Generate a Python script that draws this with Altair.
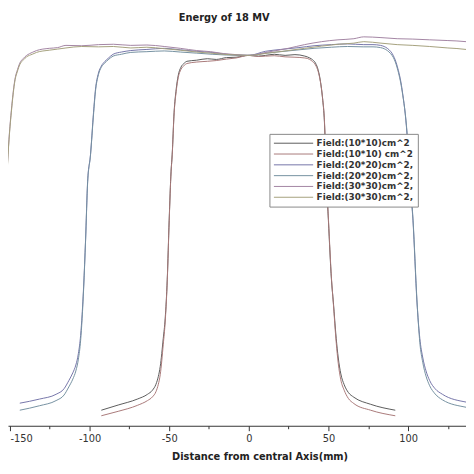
import json
import altair as alt
import pandas as pd

# ---- data (x in mm, relative dose in %) ----
x10 = [-92.6, -82, -70, -63.6, -60.5, -58.3, -56.8, -55.6, -53.7, -52.5, -51.2, -50, -48.8, -48.1,
       -46.9, -45.6, -44.3, -42.6, -40.5, -38.9, -32.7, -26, -20.4, -14, -8, 0, 6, 10.5, 16, 22.8,
       29, 35.2, 38.3, 40.1, 41.9, 43.6, 45.0, 46.3, 47.5, 48.8, 50, 51.9, 53.1, 54.9, 56.2, 57.8,
       59.9, 62.5, 66, 76.5, 92]
y10a = [4.2, 5.6, 7.2, 8.5, 9.6, 11.2, 13.3, 16.0, 23.6, 28.9, 39.5, 55.4, 68.7, 73.2,
        84.6, 90.8, 94.6, 96.8, 97.9, 98.4, 98.7, 99.1, 98.9, 99.4, 99.5, 100, 99.8, 100, 100.3, 100,
        100.2, 99.8, 99.3, 98.8, 97.9, 96.0, 93.0, 88.5, 82, 66, 55.4, 39.5, 33.4, 23.6, 18.3, 14.0,
        11.1, 9.0, 7.7, 5.8, 4.2]
y10b = [2.7, 3.9, 5.5, 6.8, 7.8, 9.2, 11.2, 13.8, 22.0, 28.0, 39.0, 55.0, 68.5, 73.0,
        84.2, 90.2, 94.0, 96.2, 97.3, 97.8, 98.2, 98.4, 98.6, 99.0, 99.3, 100, 99.7, 99.8, 99.9, 99.6,
        99.5, 99.3, 98.9, 98.3, 97.4, 95.6, 92.8, 88.6, 82.5, 66.5, 56.0, 40.0, 33.0, 22.5, 16.8, 12.4,
        9.6, 7.4, 6.0, 4.2, 2.7]

x20 = [-143.8, -131.5, -121, -116, -113, -110.5, -108.6, -107, -105.6, -103.7, -102.5, -101.2, -99.4,
       -97.5, -96.3, -94.4, -92.6, -90.3, -88.3, -85.2, -80, -74.1, -64, -53.1, -43, -32.7, -23, -14.2,
       0, 10.5, 20, 31.5, 41, 51.9, 62, 72.2, 78, 82.7, 85, 87, 89, 90.7, 93.2, 96.3, 99.4, 101.2,
       103.1, 105.6, 107.4, 109.3, 111.3, 113.6, 117, 121.6, 136.4, 145]
y20a = [6.1, 7.2, 8.5, 10.0, 12.2, 14.3, 16.4, 19.5, 24.4, 37.7, 50.1, 66, 73.2,
        84.6, 90.7, 95.2, 97.1, 98.4, 99.2, 100.3, 100.9, 101.3, 101.6, 101.9, 101.5, 101.1, 100.8, 100.3,
        100, 101.1, 101.6, 102.1, 102.6, 102.9, 103.1, 102.9, 102.9, 102.7, 102.4, 101.9, 101.1, 100, 97.1,
        90.7, 78.5, 66, 55.4, 33.4, 23.6, 18.3, 14.8, 12.2, 10.0, 8.5, 6.4, 5.9]
y20b = [4.2, 5.4, 6.8, 8.3, 10.5, 12.6, 14.8, 18.0, 23.0, 37.0, 49.8, 65.5, 73.0,
        84.0, 90.2, 94.8, 96.8, 98.0, 98.8, 99.8, 100.3, 100.8, 101.0, 101.2, 100.9, 100.6, 100.3, 100.1,
        100, 100.6, 101.0, 101.5, 101.9, 102.2, 102.4, 102.3, 102.3, 102.1, 101.8, 101.3, 100.5, 99.5, 96.6,
        90.3, 79, 66.5, 56, 34, 22.5, 17, 13.4, 10.8, 8.6, 7, 5.0, 4.4]

x30 = [-195, -175, -163, -158, -155.6, -153.1, -151.2, -148.8, -146.9, -145.2, -143.8, -141.5, -139.5,
       -136, -133.3, -125.3, -120, -114.8, -105, -94.4, -85, -74.1, -64, -53.1, -43, -32.7, -24, -16,
       -8, 0, 12, 24.7, 35, 45.7, 56, 66, 72.2, 83, 93.2, 103, 113.6, 125, 136.4, 143, 147, 150, 152,
       154, 156, 159, 165, 180, 195]
y30a = [3.5, 6, 10, 18, 28.9, 56.2, 73.2, 86.5, 93.4, 96.2, 97.9, 99.2, 100,
        100.8, 101.3, 101.9, 102.1, 102.7, 102.6, 102.9, 103.0, 102.7, 102.8, 102.4, 101.9, 101.3, 101.0,
        100.5, 100.2, 100, 100.9, 101.9, 102.9, 103.7, 104.2, 104.5, 105, 104.8, 104.5, 104.4, 104.2,
        104.0, 103.7, 103, 100, 94, 85, 70, 52, 30, 14, 6, 3.5]
y30b = [2.5, 4.5, 8.5, 16.5, 28, 55.5, 72.8, 86, 93, 95.8, 97.5, 98.8, 99.6,
        100.3, 100.8, 101.4, 101.7, 102.0, 102.4, 102.3, 102.4, 102.0, 102.2, 101.8, 101.4, 100.9, 100.6,
        100.3, 100.1, 100, 100.6, 101.3, 101.9, 102.5, 103.0, 103.3, 103.7, 103.3, 102.9, 102.7, 102.4,
        102.0, 101.6, 101, 98.5, 93, 84, 69, 51, 29, 13, 5, 2.5]

series_ids = ["A1", "A2", "B1", "B2", "C1", "C2"]
legend_text = ["Field:(10*10)cm^2", "Field:(10*10) cm^2", "Field:(20*20)cm^2,",
               "Field:(20*20)cm^2,", "Field:(30*30)cm^2,", "Field:(30*30)cm^2,"]
colors = ["#5a5a5a", "#a87878", "#7474a8", "#7490a0", "#a284a2", "#a4a07c"]
tick_values = list(range(-150, 150, 25))

rows = []
for sid, xs, ys in [("A1", x10, y10a), ("A2", x10, y10b), ("B1", x20, y20a),
                    ("B2", x20, y20b), ("C1", x30, y30a), ("C2", x30, y30b)]:
    for i, (xv, yv) in enumerate(zip(xs, ys)):
        rows.append({"series": sid, "x": xv, "y": yv, "i": i})
df = pd.DataFrame(rows)

label_expr = f"{json.dumps(legend_text)}[indexof({json.dumps(series_ids)}, datum.value)]"

FONT = "DejaVu Sans"

chart = alt.Chart(df).mark_line(strokeWidth=1, clip=True, interpolate="monotone").encode(
    x=alt.X("x:Q",
            scale=alt.Scale(domain=[-151.2, 136.4], nice=False, zero=False),
            axis=alt.Axis(values=tick_values,
                          labelExpr="datum.value % 50 === 0 ? '' + datum.value : ''",
                          tickSize={"condition": {"test": "datum.value % 50 !== 0", "value": 3}, "value": 5},
                          tickColor="#333333", domainColor="#333333", domainWidth=1, tickWidth=1,
                          labelFontSize=10, labelFont=FONT, labelColor="#333333",
                          labelFlush=5, labelOverlap=False, labelPadding=3, grid=False,
                          title="Distance from central Axis(mm)", titleFontSize=10, titleFont=FONT,
                          titleFontWeight="bold", titleColor="#222222", titleX=256, titlePadding=8)),
    y=alt.Y("y:Q", scale=alt.Scale(domain=[0, 107.2], nice=False, zero=False), axis=None),
    color=alt.Color("series:N",
                    scale=alt.Scale(domain=series_ids, range=colors),
                    legend=alt.Legend(title=None, orient="none", legendX=266, legendY=107,
                                      symbolType="stroke", symbolSize=1600, symbolStrokeWidth=1,
                                      clipHeight=11, rowPadding=0, labelFontSize=9, labelFont=FONT,
                                      labelFontWeight="bold", labelColor="#333333", labelOffset=3,
                                      labelExpr=label_expr, padding=4, strokeColor="#888888",
                                      fillColor="white", labelLimit=400)),
    order="i:Q",
).properties(
    width=466, height=404,
    title=alt.TitleParams("Energy of 18 MV", fontSize=10, font=FONT, fontWeight="bold",
                          color="#222222", anchor="middle", dx=-13, offset=6),
    autosize=alt.AutoSizeParams(type="none"),
    padding={"left": 0, "top": 17, "right": 0, "bottom": 45},
).configure_view(stroke=None)

chart.save("out.html", embed_options={"renderer": "svg", "actions": False})
